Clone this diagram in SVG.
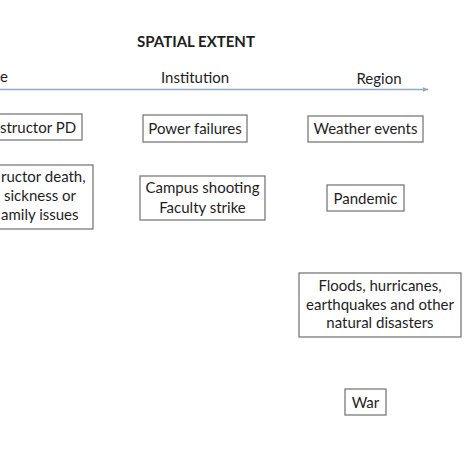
<svg xmlns="http://www.w3.org/2000/svg" width="474" height="474" viewBox="0 0 474 474">
<style>
text{font-family:Lato,"Open Sans","Liberation Sans",sans-serif;font-size:15px;fill:#1e1e1e}
.c{text-anchor:middle}
.box{fill:#fff;stroke:#7a7a7a;stroke-width:1.3}
.ax{stroke:#8fa9c9;stroke-width:1.3;fill:none}
</style>
<defs>
<marker id="ah" markerWidth="6" markerHeight="6" refX="5" refY="3" orient="auto" markerUnits="userSpaceOnUse">
<path d="M0,0.8 L5.5,3 L0,5.2 z" fill="#8fa9c9"/>
</marker>
</defs>
<rect width="474" height="474" fill="#fff"/>
<text x="196" y="47" class="c" font-weight="bold">SPATIAL EXTENT</text>
<text x="0" y="82">e</text>
<text x="195" y="83" class="c">Institution</text>
<text x="379" y="84" class="c">Region</text>
<g id="connectors">
<line class="ax" x1="0" y1="89.5" x2="428" y2="89.5" marker-end="url(#ah)"/>
</g>
<g id="n1"><rect class="box" x="-20" y="114" width="102" height="26"/><text x="0" y="133">structor PD</text></g>
<g id="n2"><rect class="box" x="-20" y="165" width="113" height="64"/>
<text x="1" y="182">ructor death,</text>
<text x="4" y="201">sickness or</text>
<text x="1" y="220">amily issues</text></g>
<g id="n3"><rect class="box" x="143" y="115" width="104" height="27"/><text x="195" y="134" class="c">Power failures</text></g>
<g id="n4"><rect class="box" x="140" y="176" width="125" height="44"/><text x="202.5" y="193" class="c">Campus shooting</text><text x="202.5" y="213" class="c">Faculty strike</text></g>
<g id="n5"><rect class="box" x="308" y="116" width="115" height="26"/><text x="365.5" y="134" class="c">Weather events</text></g>
<g id="n6"><rect class="box" x="327" y="185" width="77" height="26"/><text x="365.5" y="204" class="c">Pandemic</text></g>
<g id="n7"><rect class="box" x="299" y="273" width="162" height="64"/>
<text x="380" y="291" class="c">Floods, hurricanes,</text>
<text x="380" y="310" class="c">earthquakes and other</text>
<text x="380" y="328" class="c">natural disasters</text></g>
<g id="n8"><rect class="box" x="345" y="389" width="41" height="26"/><text x="365.5" y="408" class="c">War</text></g>
</svg>
